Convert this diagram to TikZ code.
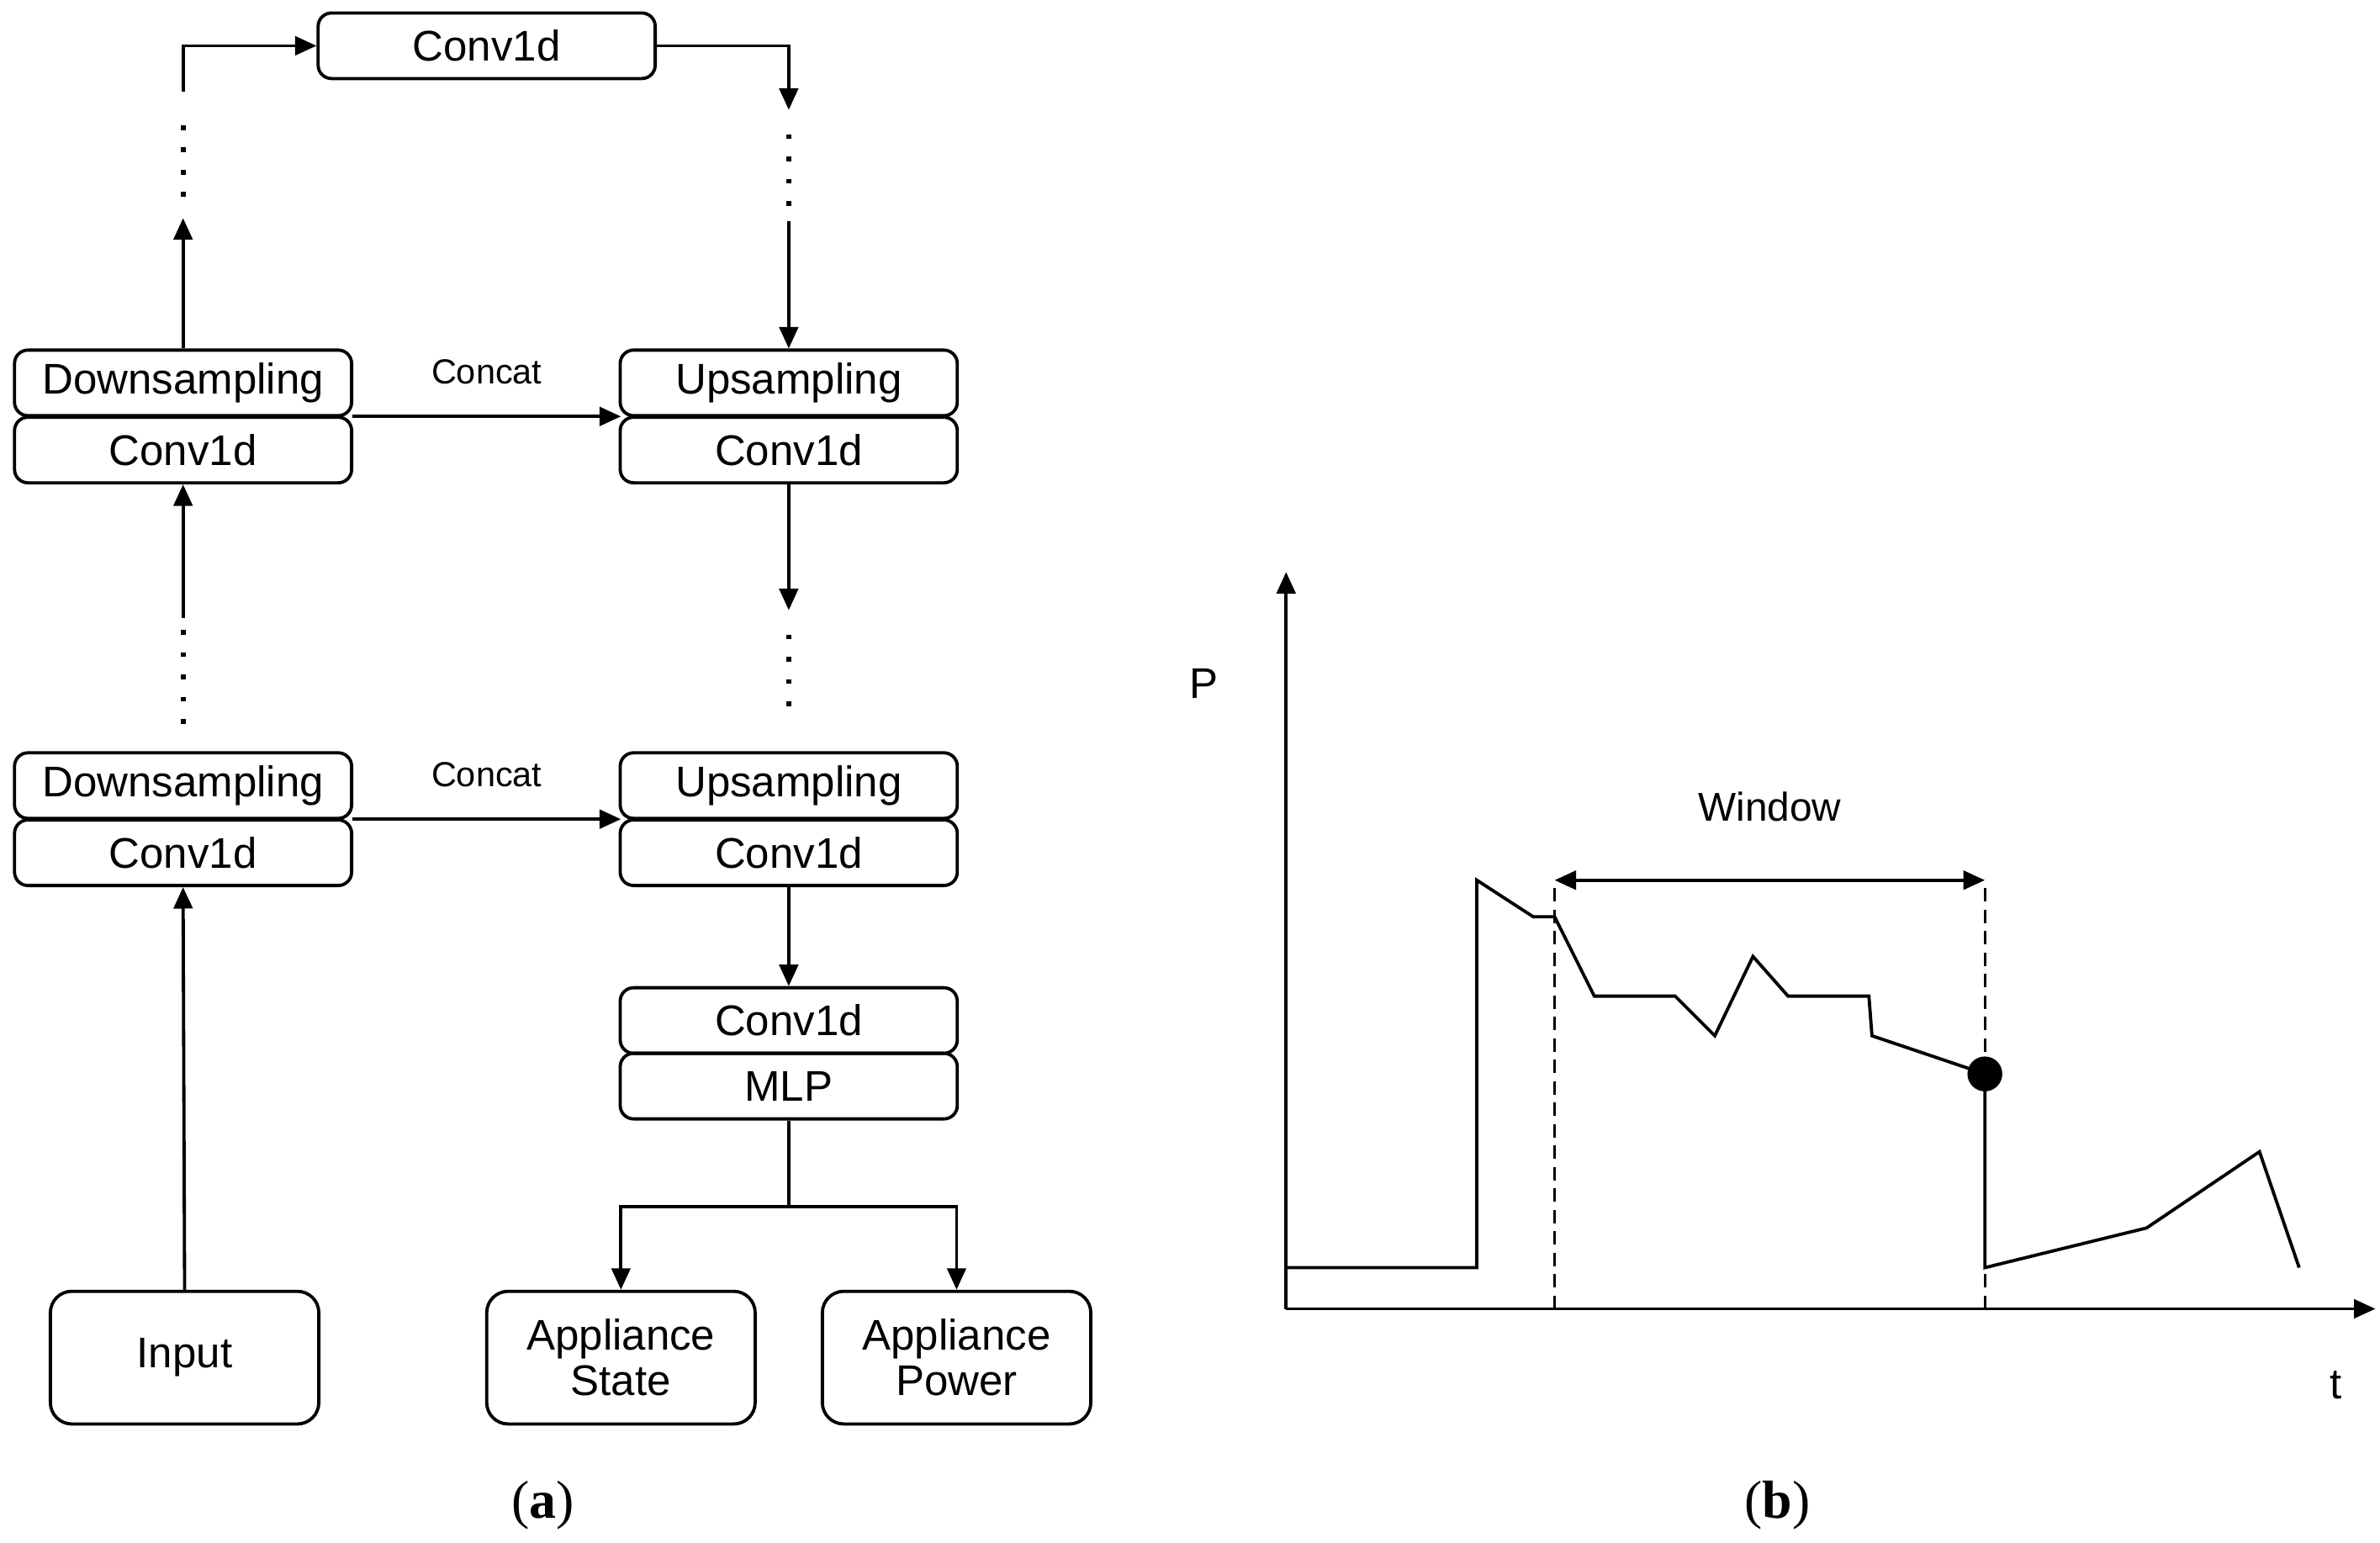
\documentclass[tikz,border=0pt]{standalone}
\usepackage{fontspec}
\setmainfont{Liberation Sans}
\newfontfamily\serifb{Liberation Serif}
\usetikzlibrary{arrows.meta}
\begin{document}
\begin{tikzpicture}[x=0.02cm,y=-0.02cm,
  box/.style={draw,line width=1.2pt,rounded corners=5pt,minimum width=4.42cm,minimum height=0.86cm,inner sep=0pt,font=\fontsize{16}{18}\selectfont},
  big/.style={draw,line width=1.2pt,rounded corners=8pt,minimum width=3.52cm,minimum height=1.74cm,inner sep=0pt,align=center,font=\fontsize{16}{17}\selectfont},
  ar/.style={line width=1.2pt,-{Triangle[width=7pt,length=8pt]}},
  ln/.style={line width=1.2pt},
  dt/.style={line width=1.8pt,dash pattern=on 1.8pt off 6.5pt},
  lab/.style={font=\fontsize{13}{15}\selectfont}]
\useasboundingbox (0,0) rectangle (1560,1011);
% left column
\node[box] (d1) at (120,251) {Downsampling};
\node[box] (c1) at (120,295) {Conv1d};
\node[box] (d2) at (120,515) {Downsampling};
\node[box] (c2) at (120,559) {Conv1d};
% right column
\node[box] (u1) at (517,251) {Upsampling};
\node[box] (r1) at (517,295) {Conv1d};
\node[box] (u2) at (517,515) {Upsampling};
\node[box] (r2) at (517,559) {Conv1d};
\node[box] (c3) at (517,669) {Conv1d};
\node[box] (mlp) at (517,712) {MLP};
\node[box] (top) at (319,30) {Conv1d};
\node[big] (in) at (121,890) {Input};
\node[big] (as) at (407,890) {Appliance\\State};
\node[big] (ap) at (627,890) {Appliance\\Power};
% connectors
\draw[ar] (in.north) -- (c2.south);
\coordinate (ld1) at (120,470); \coordinate (ld2) at (120,405);
\draw[dt] (d2.north) ++(0,-18) -- (ld2);
\draw[ar] (ld2) -- (c1.south);
\coordinate (lu1) at (120,143); \coordinate (lu2) at (120,60);
\draw[ar] (d1.north) -- (lu1);
\draw[dt] (lu1) ++(0,-14) -- (120,72);
\draw[ar] (120,60) |- (top.west);
\coordinate (rt) at (517,72);
\draw[ar] (top.east) -| (rt);
\draw[dt] (517,88) -- (517,140);
\coordinate (rb) at (517,145);
\draw[ar] (rb) -- (u1.north);
\coordinate (rm) at (517,400);
\draw[ar] (r1.south) -- (rm);
\draw[dt] (517,416) -- (517,472);
\draw[ar] (231,273) -- node[lab,above=8pt]{Concat} (407,273);
\draw[ar] (231,537) -- node[lab,above=8pt]{Concat} (407,537);
\draw[ar] (r2.south) -- (c3.north);
\coordinate (sp) at (517,791);
\draw[ln] (mlp.south) -- (sp);
\draw[ar] (sp) -| (as.north);
\draw[ar] (sp) -| (ap.north);
% panel b
\coordinate (o) at (843,858);
\draw[ar] (o) -- (843,375);
\draw[ar] (o) -- (1557,858);
\node[font=\fontsize{16}{18}\selectfont] (P) at (789,448) {P};
\node[font=\fontsize{16}{18}\selectfont] (t) at (1531,908) {t};
\draw[ln] (843,831) -- (968,831) -- (968,577) -- (1005,601) -- (1019,601) -- (1045,653) -- (1098,653) -- (1124,679) -- (1149,627) -- (1172,653) -- (1225,653) -- (1227,679) -- (1301,704) -- (1301,831) -- (1407,805) -- (1481,755) -- (1507,831);
\fill (1301,704) circle (6.5pt);
\draw[line width=1pt,dash pattern=on 5pt off 3pt] (1019,858) -- (1019,577);
\draw[line width=1pt,dash pattern=on 5pt off 3pt] (1301,858) -- (1301,577);
\coordinate (wl) at (1019,577); \coordinate (wr) at (1301,577);
\draw[line width=1.2pt,{Triangle[width=7pt,length=8pt]}-{Triangle[width=7pt,length=8pt]}] (wl) -- node[lab,above=18pt,font=\fontsize{15}{17}\selectfont]{Window} (wr);
\node[font=\serifb\fontsize{20}{22}\selectfont] (la) at (356,987) {(\textbf{a})};
\node[font=\serifb\fontsize{20}{22}\selectfont] (lb) at (1165,987) {(\textbf{b})};
\end{tikzpicture}
\end{document}
